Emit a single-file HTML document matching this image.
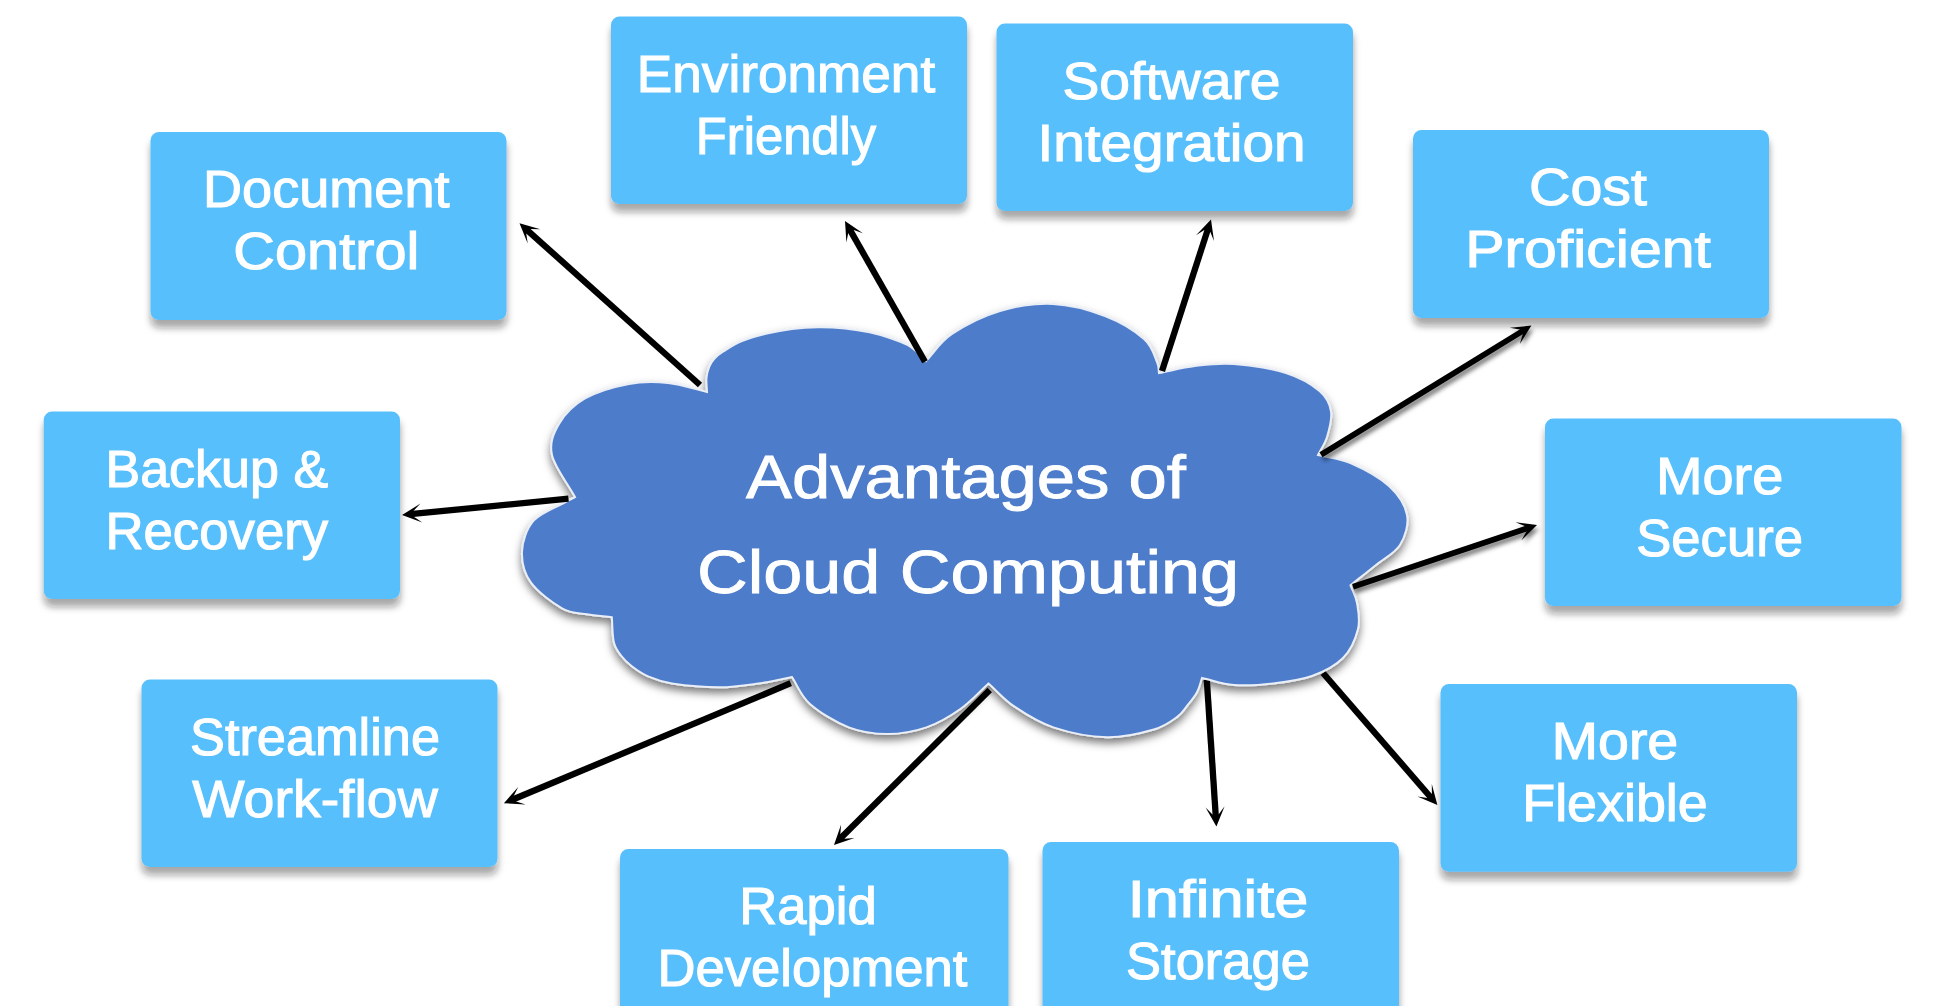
<!DOCTYPE html><html lang="en"><head><meta charset="utf-8"><title>Advantages of Cloud Computing</title>
<style>html,body{margin:0;padding:0;background:#fff}body{width:1950px;height:1006px;overflow:hidden}svg{display:block}
.lbl{font-family:"Liberation Sans",sans-serif;font-size:51px;fill:#fff;stroke:#fff;stroke-width:1.1px;text-anchor:middle}
.ttl{font-family:"Liberation Sans",sans-serif;font-size:62px;fill:#fff;stroke:#fff;stroke-width:0.9px;text-anchor:middle}
</style></head><body>
<svg width="1950" height="1006" viewBox="0 0 1950 1006">
<defs>
<filter id="bs" x="-10%" y="-10%" width="120%" height="130%"><feDropShadow dx="0.3" dy="8" stdDeviation="3.6" flood-color="#1c1612" flood-opacity="0.38"/></filter>
<filter id="cs" x="-10%" y="-10%" width="120%" height="130%"><feDropShadow dx="0" dy="5" stdDeviation="4.5" flood-color="#000" flood-opacity="0.52"/></filter>
<filter id="as" x="-20%" y="-20%" width="140%" height="140%"><feDropShadow dx="2" dy="4" stdDeviation="2" flood-color="#000" flood-opacity="0.5"/></filter>
</defs>
<rect width="1950" height="1006" fill="#fff"/>
<g stroke="#000" stroke-width="6.3" fill="#000"><line x1="790.7" y1="683.2" x2="514.0" y2="799.0"/><polygon stroke="none" points="503.9,803.2 518.2,786.9 513.8,795.7 516.2,801.5 525.6,804.4"/></g>
<g stroke="#000" stroke-width="6.3" fill="#000"><line x1="989.7" y1="690.0" x2="841.8" y2="837.1"/><polygon stroke="none" points="834.0,844.9 841.1,824.4 840.3,834.2 844.7,838.7 854.5,837.9"/></g>
<g stroke="#000" stroke-width="6.3" fill="#000"><line x1="1206.8" y1="679.8" x2="1215.7" y2="815.4"/><polygon stroke="none" points="1216.4,826.4 1205.6,807.6 1212.5,814.6 1218.8,814.2 1224.6,806.3"/></g>
<g stroke="#000" stroke-width="6.3" fill="#000"><line x1="1323.0" y1="673.0" x2="1430.2" y2="796.7"/><polygon stroke="none" points="1437.4,805.0 1417.4,796.5 1427.2,798.0 1431.9,793.9 1431.8,784.0"/></g>
<path d="M575.0 497.0 C567.3 483.0 554.7 467.2 552.0 455.0 C549.3 442.8 553.5 433.4 559.0 424.0 C564.5 414.6 573.3 405.2 585.0 398.5 C596.7 391.8 615.2 386.6 629.0 384.0 C642.8 381.4 655.0 381.7 668.0 383.0 C681.0 384.3 694.0 389.0 707.0 392.0 C706.8 387.3 706.1 382.2 706.5 378.0 C706.9 373.8 707.9 370.1 709.2 366.9 C710.5 363.6 712.1 361.1 714.5 358.5 C716.9 355.9 718.8 354.4 723.3 351.5 C727.8 348.6 734.0 344.3 741.3 341.3 C748.6 338.3 758.4 335.7 766.9 333.6 C775.4 331.6 783.5 330.1 792.0 329.0 C800.5 327.9 809.4 327.3 818.2 327.2 C827.0 327.1 836.5 327.6 845.0 328.5 C853.5 329.4 862.0 330.7 869.5 332.3 C877.0 333.9 883.6 335.9 890.0 338.0 C896.4 340.1 903.2 342.6 907.9 345.1 C912.6 347.6 915.0 350.4 918.0 353.0 C921.0 355.6 923.3 358.3 926.0 361.0 C934.7 352.0 939.7 342.3 952.0 334.0 C964.3 325.7 983.2 316.0 1000.0 311.0 C1016.8 306.0 1035.5 303.2 1053.0 304.0 C1070.5 304.8 1089.8 310.2 1105.0 316.0 C1120.2 321.8 1135.3 331.3 1144.0 339.0 C1152.7 346.7 1154.5 356.3 1157.0 362.0 C1159.5 367.7 1158.3 369.3 1159.0 373.0 C1171.0 370.7 1182.5 367.5 1195.0 366.0 C1207.5 364.5 1218.8 362.8 1234.0 364.0 C1249.2 365.2 1271.8 368.5 1286.0 373.0 C1300.2 377.5 1312.0 384.6 1319.5 391.0 C1327.0 397.4 1329.8 403.8 1331.0 411.5 C1332.2 419.2 1329.2 429.8 1327.0 437.0 C1324.8 444.2 1321.0 449.0 1318.0 455.0 C1328.8 457.7 1338.7 457.8 1350.5 463.0 C1362.3 468.2 1379.6 477.3 1389.0 486.0 C1398.4 494.7 1405.2 505.2 1407.0 515.0 C1408.8 524.8 1405.2 536.7 1400.0 545.0 C1394.8 553.3 1384.2 558.3 1376.0 565.0 C1367.8 571.7 1359.0 578.5 1350.5 585.3 C1352.7 591.2 1355.8 595.7 1357.0 603.0 C1358.2 610.3 1360.3 619.8 1358.0 629.0 C1355.7 638.2 1350.7 650.2 1343.0 658.0 C1335.3 665.8 1323.7 671.8 1312.0 676.0 C1300.3 680.2 1286.0 682.0 1273.0 683.5 C1260.0 685.0 1245.8 685.9 1234.0 685.0 C1222.2 684.1 1212.7 680.3 1202.0 678.0 C1200.3 682.8 1199.5 687.6 1197.0 692.3 C1194.5 697.0 1190.3 701.9 1187.0 706.0 C1183.7 710.1 1182.7 713.0 1177.2 716.9 C1171.7 720.8 1165.5 726.1 1153.8 729.5 C1142.1 732.9 1123.7 737.6 1107.0 737.3 C1090.3 736.9 1068.8 732.5 1053.4 727.4 C1038.0 722.3 1025.4 714.0 1014.6 706.7 C1003.8 699.4 997.2 691.2 988.5 683.5 C979.0 692.1 970.4 702.0 960.0 709.3 C949.6 716.6 938.5 723.3 926.4 727.4 C914.3 731.5 900.5 734.0 887.6 734.0 C874.7 734.0 861.7 732.4 848.8 727.4 C835.9 722.4 819.5 712.4 810.0 704.0 C800.5 695.6 798.0 686.0 792.0 677.0 C780.8 679.2 770.5 681.8 758.4 683.5 C746.3 685.2 734.0 687.3 719.6 687.3 C705.2 687.3 683.9 685.3 672.0 683.5 C660.1 681.7 655.0 679.3 648.2 676.4 C641.5 673.5 636.0 669.5 631.5 666.0 C627.0 662.5 624.0 659.5 621.0 655.5 C618.0 651.5 615.3 648.4 613.8 642.0 C612.3 635.6 612.5 625.5 611.8 617.2 C603.5 616.2 595.3 615.8 587.0 614.3 C578.7 612.8 571.3 613.6 562.0 608.3 C552.7 603.0 537.7 592.1 531.0 582.7 C524.3 573.3 521.6 562.0 522.0 551.7 C522.4 541.4 526.5 528.9 533.6 520.7 C540.7 512.5 557.7 506.6 564.6 502.6 C571.5 498.7 571.5 498.9 575.0 497.0Z" fill="#4d7ccb" stroke="#e9eef7" stroke-width="2" stroke-linejoin="miter" filter="url(#cs)"/>
<text class="ttl" x="966" y="498" textLength="440" lengthAdjust="spacingAndGlyphs">Advantages of</text>
<text class="ttl" x="968" y="593" textLength="542" lengthAdjust="spacingAndGlyphs">Cloud Computing</text>
<g stroke="#000" stroke-width="6.3" fill="#000"><line x1="700.0" y1="385.0" x2="527.7" y2="230.6"/><polygon stroke="none" points="519.5,223.3 540.4,229.2 530.5,229.0 526.3,233.7 527.7,243.4"/></g>
<g stroke="#000" stroke-width="6.3" fill="#000"><line x1="925.0" y1="361.8" x2="850.4" y2="230.6"/><polygon stroke="none" points="845.0,221.0 862.9,233.3 853.7,229.9 848.2,233.0 846.4,242.6"/></g>
<g stroke="#000" stroke-width="6.3" fill="#000"><line x1="1162.0" y1="371.0" x2="1207.6" y2="230.1"/><polygon stroke="none" points="1211.0,219.6 1214.0,241.1 1210.3,232.0 1204.3,230.0 1196.0,235.2"/></g>
<g stroke="#000" stroke-width="5.8" fill="#000" filter="url(#as)"><line x1="1321.0" y1="454.8" x2="1522.0" y2="331.4"/><polygon stroke="none" points="1531.4,325.6 1519.8,343.9 1522.7,334.4 1519.7,329.4 1509.8,327.7"/></g>
<g stroke="#000" stroke-width="6.3" fill="#000"><line x1="568.5" y1="498.7" x2="412.9" y2="513.9"/><polygon stroke="none" points="402.0,515.0 420.5,503.6 413.6,510.7 414.2,517.0 422.3,522.6"/></g>
<g stroke="#000" stroke-width="5.8" fill="#000" filter="url(#as)"><line x1="1353.0" y1="586.8" x2="1526.6" y2="528.5"/><polygon stroke="none" points="1537.0,525.0 1521.5,540.2 1526.5,531.6 1524.7,526.1 1515.5,522.2"/></g>
<rect x="150.5" y="132.0" width="356.0" height="188.0" rx="8.5" fill="#58bffd" filter="url(#bs)"/>
<text class="lbl" x="326.3" y="207.3" textLength="246.5" lengthAdjust="spacingAndGlyphs">Document</text>
<text class="lbl" x="326.3" y="269.0" textLength="186.0" lengthAdjust="spacingAndGlyphs">Control</text>
<rect x="611.0" y="16.5" width="356.0" height="187.5" rx="8.5" fill="#58bffd" filter="url(#bs)"/>
<text class="lbl" x="786.0" y="91.8" textLength="298.4" lengthAdjust="spacingAndGlyphs">Environment</text>
<text class="lbl" x="786.0" y="153.5" textLength="180.5" lengthAdjust="spacingAndGlyphs">Friendly</text>
<rect x="996.5" y="23.5" width="356.5" height="187.5" rx="8.5" fill="#58bffd" filter="url(#bs)"/>
<text class="lbl" x="1171.5" y="98.8" textLength="218.0" lengthAdjust="spacingAndGlyphs">Software</text>
<text class="lbl" x="1171.5" y="160.5" textLength="268.0" lengthAdjust="spacingAndGlyphs">Integration</text>
<rect x="1413.0" y="130.0" width="356.0" height="188.0" rx="8.5" fill="#58bffd" filter="url(#bs)"/>
<text class="lbl" x="1588.0" y="205.3" textLength="118.0" lengthAdjust="spacingAndGlyphs">Cost</text>
<text class="lbl" x="1588.0" y="267.0" textLength="245.7" lengthAdjust="spacingAndGlyphs">Proficient</text>
<rect x="43.7" y="411.5" width="356.3" height="187.5" rx="8.5" fill="#58bffd" filter="url(#bs)"/>
<text class="lbl" x="216.8" y="486.8" textLength="222.7" lengthAdjust="spacingAndGlyphs">Backup &amp;</text>
<text class="lbl" x="216.8" y="548.5" textLength="222.7" lengthAdjust="spacingAndGlyphs">Recovery</text>
<rect x="1545.0" y="418.5" width="356.5" height="187.5" rx="8.5" fill="#58bffd" filter="url(#bs)"/>
<text class="lbl" x="1719.6" y="493.8" textLength="127.3" lengthAdjust="spacingAndGlyphs">More</text>
<text class="lbl" x="1719.6" y="555.5" textLength="166.7" lengthAdjust="spacingAndGlyphs">Secure</text>
<rect x="141.5" y="679.5" width="356.0" height="187.5" rx="8.5" fill="#58bffd" filter="url(#bs)"/>
<text class="lbl" x="315.0" y="754.8" textLength="250.0" lengthAdjust="spacingAndGlyphs">Streamline</text>
<text class="lbl" x="315.0" y="816.5" textLength="245.7" lengthAdjust="spacingAndGlyphs">Work-flow</text>
<rect x="1440.5" y="683.9" width="356.5" height="187.8" rx="8.5" fill="#58bffd" filter="url(#bs)"/>
<text class="lbl" x="1615.0" y="759.2" textLength="126.5" lengthAdjust="spacingAndGlyphs">More</text>
<text class="lbl" x="1615.0" y="820.9" textLength="185.4" lengthAdjust="spacingAndGlyphs">Flexible</text>
<rect x="620.0" y="849.0" width="388.5" height="188.0" rx="8.5" fill="#58bffd" filter="url(#bs)"/>
<text class="lbl" x="808.0" y="924.3" textLength="137.5" lengthAdjust="spacingAndGlyphs">Rapid</text>
<text class="lbl" x="812.4" y="986.0" textLength="310.0" lengthAdjust="spacingAndGlyphs">Development</text>
<rect x="1042.5" y="842.0" width="356.5" height="188.0" rx="8.5" fill="#58bffd" filter="url(#bs)"/>
<text class="lbl" x="1218.0" y="917.3" textLength="180.5" lengthAdjust="spacingAndGlyphs">Infinite</text>
<text class="lbl" x="1218.0" y="979.0" textLength="183.8" lengthAdjust="spacingAndGlyphs">Storage</text>
</svg></body></html>
